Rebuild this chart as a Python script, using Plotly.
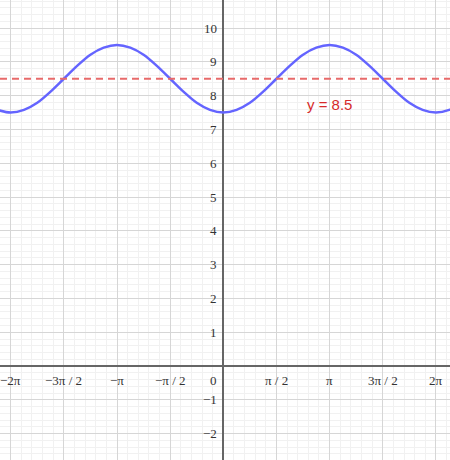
import numpy as np
import plotly.graph_objects as go

# Curve samples, x in units of pi
curve_x_pi = [-2.125, -2.0, -1.875, -1.75, -1.625, -1.5, -1.375, -1.25, -1.125, -1.0,
              -0.875, -0.75, -0.625, -0.5, -0.375, -0.25, -0.125, 0.0,
              0.125, 0.25, 0.375, 0.5, 0.625, 0.75, 0.875, 1.0,
              1.125, 1.25, 1.375, 1.5, 1.625, 1.75, 1.875, 2.0, 2.125, 2.25]
curve_y = [7.58, 7.5, 7.58, 7.79, 8.12, 8.5, 8.88, 9.21, 9.42, 9.5,
           9.42, 9.21, 8.88, 8.5, 8.12, 7.79, 7.58, 7.5,
           7.58, 7.79, 8.12, 8.5, 8.88, 9.21, 9.42, 9.5,
           9.42, 9.21, 8.88, 8.5, 8.12, 7.79, 7.58, 7.5, 7.58, 7.79]

h_line_y = 8.5
h_line_label = "y = 8.5"
label_x_pi = 1.0
label_y = 7.75

x_tick_pi = [-2.0, -1.5, -1.0, -0.5, 0.5, 1.0, 1.5, 2.0]
x_tick_text = ["\u22122\u03c0", "\u22123\u03c0 / 2", "\u2212\u03c0", "\u2212\u03c0 / 2",
               "\u03c0 / 2", "\u03c0", "3\u03c0 / 2", "2\u03c0"]
y_tick_vals = [-2, -1, 1, 2, 3, 4, 5, 6, 7, 8, 9, 10]
y_tick_text = ["\u22122", "\u22121", "1", "2", "3", "4", "5", "6", "7", "8", "9", "10"]

x_range_pi = [-2.1006, 2.1326]
y_range = [-2.78, 10.83]

PI = np.pi
xr = [v * PI for v in x_range_pi]

fig = go.Figure()
fig.add_trace(go.Scatter(
    x=[v * PI for v in curve_x_pi], y=curve_y, mode="lines",
    line=dict(color="#6464ff", width=2.5, shape="spline", smoothing=1.0),
    hoverinfo="skip", showlegend=False))
fig.add_trace(go.Scatter(
    x=xr, y=[h_line_y, h_line_y], mode="lines",
    line=dict(color="#e86a6a", width=2, dash="7px,5px"),
    hoverinfo="skip", showlegend=False))

tick_font = dict(family="Liberation Serif", size=13, color="#333333")
ann = []
for v, t in zip(x_tick_pi, x_tick_text):
    ann.append(dict(x=v * PI, y=0, text=t, showarrow=False, xanchor="center",
                    yanchor="top", yshift=-5, font=tick_font))
for v, t in zip(y_tick_vals, y_tick_text):
    ann.append(dict(x=0, y=v, text=t, showarrow=False, xanchor="right",
                    yanchor="middle", xshift=-4, font=tick_font))
ann.append(dict(x=0, y=0, text="0", showarrow=False, xanchor="right",
                yanchor="top", xshift=-4, yshift=-5, font=tick_font))
ann.append(dict(x=label_x_pi * PI, y=label_y, text=h_line_label, showarrow=False,
                xanchor="center", yanchor="middle",
                font=dict(family="Liberation Sans", size=15, color="#d62a2a")))

fig.update_layout(
    width=450, height=460, margin=dict(l=0, r=0, t=0, b=0),
    plot_bgcolor="white", paper_bgcolor="white",
    annotations=ann,
    xaxis=dict(range=xr, tick0=0, dtick=PI / 2, showticklabels=False,
               gridcolor="#d6d6d6", gridwidth=1, zeroline=True,
               zerolinecolor="#666666", zerolinewidth=1.5,
               minor=dict(tick0=0, dtick=PI / 10, gridcolor="#f1f1f1", gridwidth=1, showgrid=True),
               fixedrange=True, layer="below traces"),
    yaxis=dict(range=y_range, tick0=0, dtick=1, showticklabels=False,
               gridcolor="#d6d6d6", gridwidth=1, zeroline=True,
               zerolinecolor="#666666", zerolinewidth=1.5,
               minor=dict(tick0=0, dtick=0.2, gridcolor="#f1f1f1", gridwidth=1, showgrid=True),
               fixedrange=True),
)

fig.write_html("out.html", config={"displayModeBar": False},
               post_script="document.body.style.margin='0';document.body.style.overflow='hidden';")
